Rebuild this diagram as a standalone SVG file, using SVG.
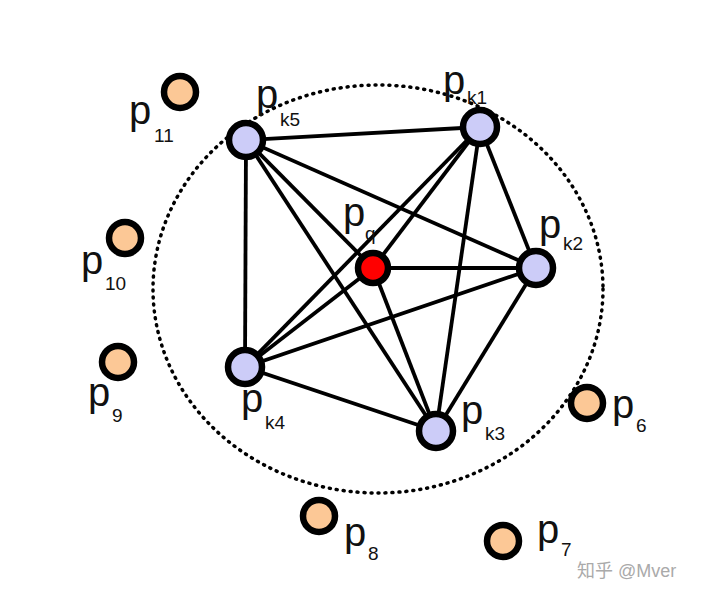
<svg xmlns="http://www.w3.org/2000/svg" width="707" height="596" viewBox="0 0 707 596">
<style>
.e{stroke:#000;stroke-width:3.8}
.n{stroke:#000;stroke-width:6.5}
.b{fill:#ccccf8}.o{fill:#fcc896}.r{fill:#f00}
text{font-family:"Liberation Sans",Arial,sans-serif;fill:#111}
.p{font-size:40px}.s{font-size:19px}
</style>
<rect width="707" height="596" fill="#fff"/>
<ellipse cx="378" cy="289" rx="225" ry="204" fill="none" stroke="#000" stroke-width="3.5" stroke-dasharray="1 6" stroke-linecap="round"/>
<g id="connectors">
<line class="e" x1="246" y1="140" x2="480" y2="127"/>
<line class="e" x1="246" y1="140" x2="536" y2="268"/>
<line class="e" x1="246" y1="140" x2="373" y2="268"/>
<line class="e" x1="246" y1="140" x2="245" y2="367"/>
<line class="e" x1="246" y1="140" x2="436" y2="431"/>
<line class="e" x1="480" y1="127" x2="536" y2="268"/>
<line class="e" x1="480" y1="127" x2="373" y2="268"/>
<line class="e" x1="480" y1="127" x2="245" y2="367"/>
<line class="e" x1="480" y1="127" x2="436" y2="431"/>
<line class="e" x1="536" y1="268" x2="373" y2="268"/>
<line class="e" x1="536" y1="268" x2="245" y2="367"/>
<line class="e" x1="536" y1="268" x2="436" y2="431"/>
<line class="e" x1="373" y1="268" x2="245" y2="367"/>
<line class="e" x1="373" y1="268" x2="436" y2="431"/>
<line class="e" x1="245" y1="367" x2="436" y2="431"/>
</g>
<g id="pk5"><circle class="n b" cx="246" cy="140" r="17"/><text class="p" x="256" y="108">p</text><text class="s" x="280" y="126">k5</text></g>
<g id="pk1"><circle class="n b" cx="480" cy="127" r="17"/><text class="p" x="443" y="94">p</text><text class="s" x="467" y="104">k1</text></g>
<g id="pk2"><circle class="n b" cx="536" cy="268" r="17"/><text class="p" x="539" y="238">p</text><text class="s" x="563" y="250">k2</text></g>
<g id="pq"><circle class="n r" cx="373" cy="268" r="15"/><text class="p" x="343" y="226">p</text><text class="s" x="365" y="240">q</text></g>
<g id="pk4"><circle class="n b" cx="245" cy="367" r="17"/><text class="p" x="241" y="412">p</text><text class="s" x="265" y="429">k4</text></g>
<g id="pk3"><circle class="n b" cx="436" cy="431" r="17"/><text class="p" x="461" y="424">p</text><text class="s" x="485" y="440">k3</text></g>
<g id="p11"><circle class="n o" cx="180" cy="92" r="16"/><text class="p" x="129" y="124">p</text><text class="s" x="154" y="142">11</text></g>
<g id="p10"><circle class="n o" cx="125" cy="238" r="16"/><text class="p" x="81" y="274">p</text><text class="s" x="105" y="290">10</text></g>
<g id="p9"><circle class="n o" cx="118" cy="362" r="16"/><text class="p" x="88" y="406">p</text><text class="s" x="112" y="422">9</text></g>
<g id="p6"><circle class="n o" cx="587" cy="403" r="16"/><text class="p" x="612" y="418">p</text><text class="s" x="636" y="432">6</text></g>
<g id="p8"><circle class="n o" cx="319" cy="516" r="16"/><text class="p" x="344" y="546">p</text><text class="s" x="368" y="560">8</text></g>
<g id="p7"><circle class="n o" cx="503" cy="541" r="16"/><text class="p" x="537" y="543">p</text><text class="s" x="561" y="556">7</text></g>
<text x="577" y="577" style="font-size:18px;fill:#aaa;font-family:'Liberation Sans','Noto Sans CJK SC',sans-serif">知乎 @Mver</text>
</svg>
